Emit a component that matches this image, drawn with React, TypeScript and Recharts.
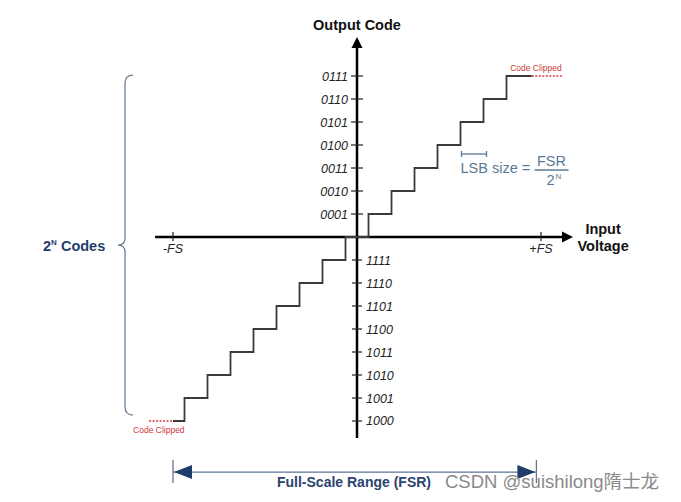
import React from 'react';
import { LineChart, Line, XAxis, YAxis, ReferenceLine, ReferenceDot } from 'recharts';

// ---- data ----
const positiveCodes = ['0001', '0010', '0011', '0100', '0101', '0110', '0111'];
const negativeCodes = ['1111', '1110', '1101', '1100', '1011', '1010', '1001', '1000'];
const stepInputs = [-8, -7.5, -6.5, -5.5, -4.5, -3.5, -2.5, -1.5, -0.5, 0.5, 1.5, 2.5, 3.5, 4.5, 5.5, 6.5, 7.6];
const stepOutputs = [-8, -7, -6, -5, -4, -3, -2, -1, 0, 1, 2, 3, 4, 5, 6, 7, 7];
const clipLowInputs = [-9.04, -8];
const clipLowOutput = -8;
const clipHighInputs = [7.6, 8.9];
const clipHighOutput = 7;
const fsInputs = [-8, 8];
const fsLabels = ['-FS', '+FS'];
const fsrRange = [-8, 7.8];
const fsrLevel = -10.22;

const stepData = stepInputs.map((x, i) => ({ x, y: stepOutputs[i] }));
const clipLowData = clipLowInputs.map((x) => ({ x, y: clipLowOutput }));
const clipHighData = clipHighInputs.map((x) => ({ x, y: clipHighOutput }));

const W = 665;
const H = 486;
const X_DOMAIN = [-15.174, 13.739];
const Y_DOMAIN = [-11.174, 9.957];

const FONT = '"Liberation Sans", Arial, sans-serif';
const BLUE = '#1f3d6b';
const SOFT_BLUE = '#5a7898';
const RED = '#d0393b';

const App = () => {
  return (
    <div style={{ width: W, height: H, background: '#fff' }}>
      <LineChart width={W} height={H} margin={{ top: 0, right: 0, bottom: 0, left: 0 }}>
        <XAxis type="number" dataKey="x" domain={X_DOMAIN} allowDataOverflow hide />
        <YAxis type="number" dataKey="y" domain={Y_DOMAIN} allowDataOverflow hide />

        {/* axes */}
        <ReferenceLine segment={[{ x: -8.78, y: 0 }, { x: 9.0, y: 0 }]} stroke="#000" strokeWidth={2.5} />
        <ReferenceLine segment={[{ x: 0, y: -8.74 }, { x: 0, y: 8.3 }]} stroke="#000" strokeWidth={2.5} />
        <ReferenceDot x={9.39} y={0} shape={(p: any) => (
          <polygon points={`${p.cx},${p.cy} ${p.cx - 11},${p.cy - 5.5} ${p.cx - 11},${p.cy + 5.5}`} fill="#000" />
        )} />
        <ReferenceDot x={0} y={8.7} shape={(p: any) => (
          <polygon points={`${p.cx},${p.cy} ${p.cx - 5.5},${p.cy + 11} ${p.cx + 5.5},${p.cy + 11}`} fill="#000" />
        )} />

        {/* y ticks and labels */}
        {positiveCodes.map((c, i) => (
          <ReferenceDot key={c} x={0} y={i + 1} shape={(p: any) => (
            <g>
              <line x1={p.cx - 6} x2={p.cx + 6} y1={p.cy} y2={p.cy} stroke="#222" strokeWidth={1.2} />
              <text x={p.cx - 9} y={p.cy + 4.5} textAnchor="end" fontFamily={FONT} fontStyle="italic" fontSize={12.5} fill="#222">{c}</text>
            </g>
          )} />
        ))}
        {negativeCodes.map((c, i) => (
          <ReferenceDot key={c} x={0} y={-(i + 1)} shape={(p: any) => (
            <g>
              <line x1={p.cx - 5} x2={p.cx + 5} y1={p.cy} y2={p.cy} stroke="#222" strokeWidth={1.2} />
              <text x={p.cx + 9} y={p.cy + 4.5} textAnchor="start" fontFamily={FONT} fontStyle="italic" fontSize={12.5} fill="#222">{c}</text>
            </g>
          )} />
        ))}

        {/* FS ticks */}
        {fsInputs.map((x, i) => (
          <ReferenceDot key={fsLabels[i]} x={x} y={0} shape={(p: any) => (
            <g>
              <line x1={p.cx} x2={p.cx} y1={p.cy - 5} y2={p.cy + 4} stroke="#222" strokeWidth={1.2} />
              <text x={p.cx} y={p.cy + 16} textAnchor="middle" fontFamily={FONT} fontStyle="italic" fontSize={12.5} fill="#222">{fsLabels[i]}</text>
            </g>
          )} />
        ))}

        {/* transfer function */}
        <Line data={stepData} dataKey="y" type="stepAfter" stroke="#3a3a3a" strokeWidth={1.8} dot={false} activeDot={false} isAnimationActive={false} />
        <Line data={clipLowData} dataKey="y" type="linear" stroke={RED} strokeWidth={1.3} strokeDasharray="2 1.5" dot={false} activeDot={false} isAnimationActive={false} />
        <Line data={clipHighData} dataKey="y" type="linear" stroke={RED} strokeWidth={1.3} strokeDasharray="2 1.5" dot={false} activeDot={false} isAnimationActive={false} />

        {/* Code Clipped labels */}
        <ReferenceDot x={clipHighInputs[1]} y={clipHighOutput} shape={(p: any) => (
          <text x={p.cx} y={p.cy - 5} textAnchor="end" fontFamily={FONT} fontSize={8.5} fill={RED}>Code Clipped</text>
        )} />
        <ReferenceDot x={clipLowInputs[0]} y={clipLowOutput} shape={(p: any) => (
          <text x={p.cx - 16} y={p.cy + 12} textAnchor="start" fontFamily={FONT} fontSize={8.5} fill={RED}>Code Clipped</text>
        )} />

        {/* axis titles */}
        <ReferenceDot x={0} y={9.0} shape={(p: any) => (
          <text x={p.cx} y={p.cy} textAnchor="middle" fontFamily={FONT} fontWeight="bold" fontSize={14.5} fill="#111">Output Code</text>
        )} />
        <ReferenceDot x={10.7} y={0} shape={(p: any) => (
          <text textAnchor="middle" fontFamily={FONT} fontWeight="bold" fontSize={14.5} fill="#111">
            <tspan x={p.cx} y={p.cy - 3}>Input</tspan>
            <tspan x={p.cx} y={p.cy + 14}>Voltage</tspan>
          </text>
        )} />

        {/* LSB size annotation */}
        <ReferenceDot x={4.5} y={3} shape={(p: any) => (
          <g fontFamily={FONT} fill={SOFT_BLUE}>
            <line x1={p.cx + 1} x2={p.cx + 26} y1={p.cy - 14} y2={p.cy - 14} stroke={SOFT_BLUE} strokeWidth={1.3} />
            <line x1={p.cx + 1} x2={p.cx + 1} y1={p.cy - 17} y2={p.cy - 11} stroke={SOFT_BLUE} strokeWidth={1.3} />
            <line x1={p.cx + 26} x2={p.cx + 26} y1={p.cy - 17} y2={p.cy - 11} stroke={SOFT_BLUE} strokeWidth={1.3} />
            <text x={p.cx} y={p.cy + 5} fontSize={14.5}>LSB size =</text>
            <text x={p.cx + 91} y={p.cy - 2} fontSize={14.5} textAnchor="middle">FSR</text>
            <line x1={p.cx + 74} x2={p.cx + 108} y1={p.cy + 2} y2={p.cy + 2} stroke={SOFT_BLUE} strokeWidth={1.3} />
            <text x={p.cx + 90} y={p.cy + 17} fontSize={14.5} textAnchor="middle">2</text>
            <text x={p.cx + 95} y={p.cy + 11} fontSize={8}>N</text>
          </g>
        )} />

        {/* 2^N codes brace */}
        <ReferenceDot x={-10.39} y={-0.35} shape={(p: any) => {
          const x = p.cx, y = p.cy;
          const top = y - 170, bot = y + 170;
          const d = `M ${x + 15} ${top} Q ${x + 7} ${top} ${x + 7} ${top + 8} L ${x + 7} ${y - 7} Q ${x + 7} ${y} ${x} ${y} Q ${x + 7} ${y} ${x + 7} ${y + 7} L ${x + 7} ${bot - 8} Q ${x + 7} ${bot} ${x + 15} ${bot}`;
          return (
            <g>
              <path d={d} fill="none" stroke="#6c7f96" strokeWidth={1.3} />
              <text x={x - 75} y={y + 6} fontFamily={FONT} fontWeight="bold" fontSize={14.5} fill={BLUE}>
                2<tspan dy={-6} fontSize={8}>N</tspan><tspan dy={6}> Codes</tspan>
              </text>
            </g>
          );
        }} />

        {/* FSR arrow */}
        <ReferenceLine segment={[{ x: fsrRange[0], y: fsrLevel }, { x: fsrRange[1], y: fsrLevel }]} stroke="#5d7393" strokeWidth={1.3} />
        <ReferenceDot x={fsrRange[0]} y={fsrLevel} shape={(p: any) => (
          <g>
            <line x1={p.cx} x2={p.cx} y1={p.cy - 12} y2={p.cy + 11} stroke="#6b7585" strokeWidth={1.3} />
            <polygon points={`${p.cx + 1},${p.cy} ${p.cx + 19},${p.cy - 7} ${p.cx + 19},${p.cy + 7}`} fill={BLUE} />
          </g>
        )} />
        <ReferenceDot x={fsrRange[1]} y={fsrLevel} shape={(p: any) => (
          <g>
            <line x1={p.cx} x2={p.cx} y1={p.cy - 12} y2={p.cy + 11} stroke="#6b7585" strokeWidth={1.3} />
            <polygon points={`${p.cx - 1},${p.cy} ${p.cx - 19},${p.cy - 7} ${p.cx - 19},${p.cy + 7}`} fill={BLUE} />
          </g>
        )} />
        <ReferenceDot x={0} y={fsrLevel} shape={(p: any) => (
          <g>
            <text x={p.cx - 3} y={p.cy + 15} textAnchor="middle" fontFamily={FONT} fontWeight="bold" fontSize={14} fill="#2b4470">Full-Scale Range (FSR)</text>
            <text x={p.cx + 88} y={p.cy + 16} textAnchor="start" fontFamily={'"Liberation Sans", "Noto Sans CJK SC", sans-serif'} fontSize={18.5} fill="#8a8a8a">CSDN @suishilong隋士龙</text>
          </g>
        )} />
      </LineChart>
    </div>
  );
};

export default App;
